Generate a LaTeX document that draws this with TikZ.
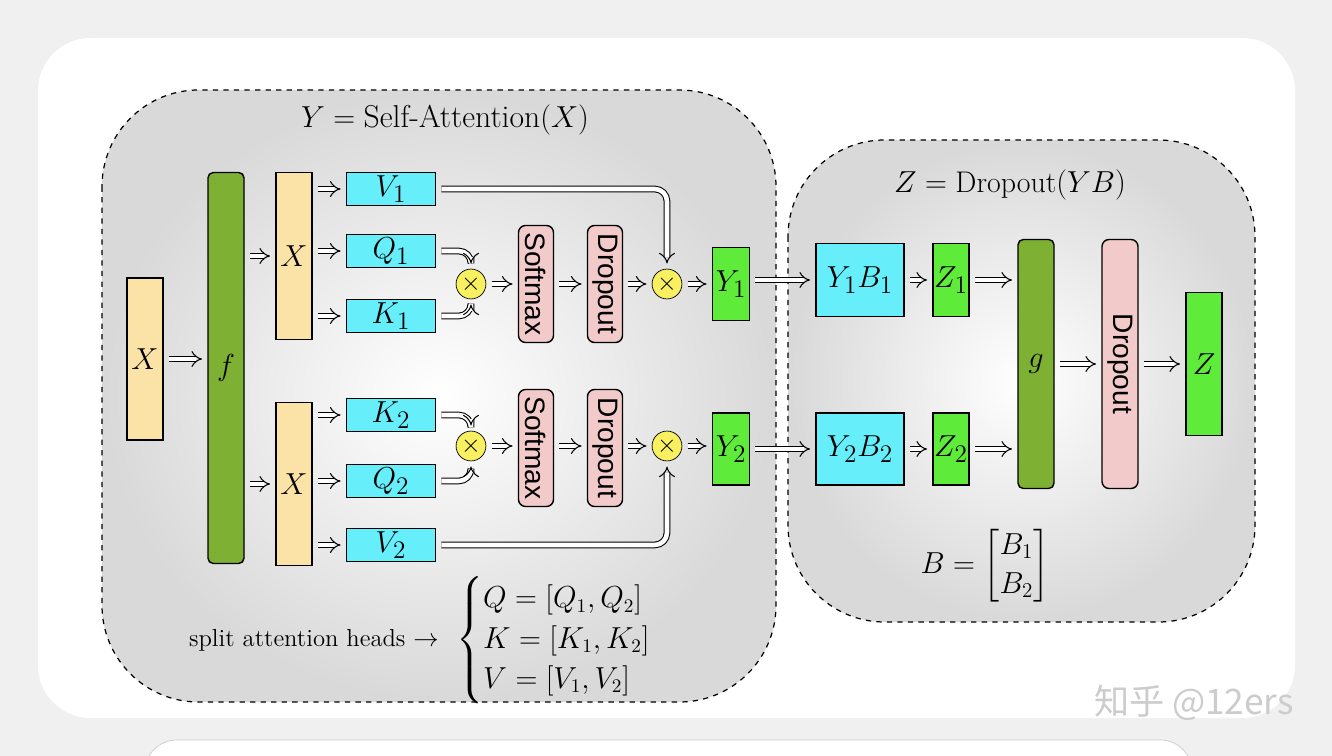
\documentclass[tikz,border=0pt]{standalone}
\usepackage{amsmath}
\usepackage{fontspec}
\newfontfamily\sfa{Liberation Sans}
\newfontfamily\cjk{Noto Sans CJK SC}
\usetikzlibrary{arrows.meta,shapes.misc}
\definecolor{yel}{HTML}{FBE3A8}
\definecolor{cyn}{HTML}{66EEFA}
\definecolor{pnk}{HTML}{F2CACA}
\definecolor{dgr}{HTML}{7DB033}
\definecolor{lgr}{HTML}{5EEB3A}
\definecolor{otc}{HTML}{F8F060}
\tikzset{
 bx/.style={draw,line width=0.8pt,inner sep=0pt,font=\fontsize{19}{22}\selectfont},
 ar/.style={double,double distance=2.6pt,line width=0.6pt,-{Implies},shorten >=3pt,shorten <=3pt},
 cr/.style={ar,rounded corners=7pt},
 ot/.style={circle,draw,fill=otc,minimum size=17pt,inner sep=0pt,font=\fontsize{15}{15}\selectfont},
 pan/.style={rounded corners=55pt,inner color=white,outer color=gray!30},
 pd/.style={rounded corners=55pt,dashed,line width=0.7pt},
 rt/.style={font=\sfa\fontsize{16}{18}\selectfont,rotate=-90}
}
\begin{document}
\begin{tikzpicture}[x=0.02cm,y=-0.02cm]
\fill[gray!12] (0,0) rectangle (1332,756);
\useasboundingbox (0,0) rectangle (1332,756);
\fill[white,rounded corners=30pt] (38,38) rectangle (1295,718);
\fill[white,rounded corners=18pt] (145,740) rectangle (1192,790);
\draw[gray!40,rounded corners=18pt] (145,790) -- (145,740) -- (1192,740) -- (1192,790);
% panels
\shade[pan] (102,90) rectangle (776,702);
\draw[pd] (102,90) rectangle (776,702);
\shade[pan] (788,140) rectangle (1255,622);
\draw[pd] (788,140) rectangle (1255,622);
\node[font=\fontsize{18}{22}\selectfont] (t1) at (445,120) {$Y=\text{Self-Attention}(X)$};
\node[font=\fontsize{17}{20}\selectfont] (t2) at (1010,185) {$Z=\text{Dropout}(YB)$};
\node[font=\fontsize{18}{22}\selectfont] (bb) at (985,566) {$B=\begin{bmatrix}B_1\\B_2\end{bmatrix}$};
\node[font=\fontsize{14}{17}\selectfont,anchor=east] (sp) at (445,640) {split attention heads $\rightarrow$};
\node[font=\fontsize{16}{19}\selectfont,anchor=west] (cs) at (450,640) {$\begin{cases}Q=[Q_1,Q_2]\\K=[K_1,K_2]\\V=[V_1,V_2]\end{cases}$};
% left boxes
\node[bx,fill=yel,minimum width=36*0.02cm,minimum height=162*0.02cm] (X0) at (145,359) {$X$};
\node[bx,fill=dgr,rounded corners=3pt,minimum width=36*0.02cm,minimum height=391*0.02cm] (f) at (226,368) {$f$};
\node[bx,fill=yel,minimum width=36*0.02cm,minimum height=167*0.02cm] (Xa) at (294,256) {$X$};
\node[bx,fill=yel,minimum width=36*0.02cm,minimum height=163*0.02cm] (Xb) at (294,484) {$X$};
\foreach \n/\l/\y in {V1/V_1/189,Q1/Q_1/251,K1/K_1/316,K2/K_2/415,Q2/Q_2/481,V2/V_2/545}
  \node[bx,fill=cyn,minimum width=89*0.02cm,minimum height=33*0.02cm] (\n) at (391,\y) {$\l$};
\node[ot] (o1) at (471,284) {$\times$};
\node[ot] (o2) at (471,446) {$\times$};
\node[ot] (o3) at (667,284) {$\times$};
\node[ot] (o4) at (667,446) {$\times$};
\foreach \n/\x/\y in {s1/536/284,d1/605/284,s2/536/448,d2/605/448}
  \node[bx,fill=pnk,rounded corners=4pt,minimum width=35*0.02cm,minimum height=117*0.02cm] (\n) at (\x,\y) {};
\foreach \n/\t in {s1/Softmax,d1/Dropout,s2/Softmax,d2/Dropout}
  \node[rt] at (\n) {\t};
\node[bx,fill=lgr,minimum width=37*0.02cm,minimum height=73*0.02cm] (Y1) at (731,284) {$Y_1$};
\node[bx,fill=lgr,minimum width=37*0.02cm,minimum height=72*0.02cm] (Y2) at (731,449) {$Y_2$};
% right boxes
\node[bx,fill=cyn,minimum width=88*0.02cm,minimum height=73*0.02cm] (YB1) at (860,280) {$Y_1B_1$};
\node[bx,fill=cyn,minimum width=88*0.02cm,minimum height=72*0.02cm] (YB2) at (860,449) {$Y_2B_2$};
\node[bx,fill=lgr,minimum width=36*0.02cm,minimum height=73*0.02cm] (Z1) at (951,280) {$Z_1$};
\node[bx,fill=lgr,minimum width=36*0.02cm,minimum height=72*0.02cm] (Z2) at (951,449) {$Z_2$};
\node[bx,fill=dgr,rounded corners=3pt,minimum width=36*0.02cm,minimum height=249*0.02cm] (g) at (1036,364) {$g$};
\node[bx,fill=pnk,rounded corners=4pt,minimum width=36*0.02cm,minimum height=249*0.02cm] (dr) at (1120,364) {};
\node[rt] at (dr) {Dropout};
\node[bx,fill=lgr,minimum width=36*0.02cm,minimum height=143*0.02cm] (Z) at (1204,364) {$Z$};
% arrows
\draw[ar] (X0) -- (X0-|f.west);
\draw[ar] (f.east|-Xa) -- (Xa);
\draw[ar] (f.east|-Xb) -- (Xb);
\foreach \n in {V1,Q1,K1} \draw[ar] (Xa.east|-\n) -- (\n);
\foreach \n in {K2,Q2,V2} \draw[ar] (Xb.east|-\n) -- (\n);
\draw[cr] (Q1.east) -| (o1.north);
\draw[cr] (K1.east) -| (o1.south);
\draw[cr] (K2.east) -| (o2.north);
\draw[cr] (Q2.east) -| (o2.south);
\draw[cr] (V1.east) -| (o3.north);
\draw[cr] (V2.east) -| (o4.south);
\draw[ar] (o1) -- (s1.west|-o1);
\draw[ar] (s1.east|-o1) -- (d1.west|-o1);
\draw[ar] (d1.east|-o1) -- (o3);
\draw[ar] (o3) -- (Y1);
\draw[ar] (o2) -- (s2.west|-o2);
\draw[ar] (s2.east|-o2) -- (d2.west|-o2);
\draw[ar] (d2.east|-o2) -- (o4);
\draw[ar] (o4) -- (Y2.west|-o4);
\draw[ar] (Y1.east|-YB1) -- (YB1);
\draw[ar] (Y2) -- (YB2);
\draw[ar] (YB1) -- (Z1);
\draw[ar] (YB2) -- (Z2);
\draw[ar] (Z1) -- (g.west|-Z1);
\draw[ar] (Z2) -- (g.west|-Z2);
\draw[ar] (g) -- (dr);
\draw[ar] (dr) -- (Z);
\node[font=\cjk\fontsize{20}{22}\selectfont,text=gray!40,anchor=east] (wm) at (1300,703) {知乎 @12ers};
\end{tikzpicture}
\end{document}
